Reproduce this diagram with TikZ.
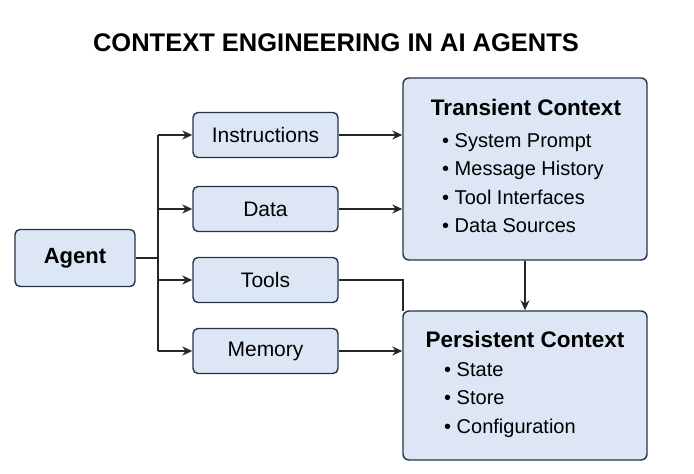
\documentclass[tikz,border=0pt]{standalone}
\usepackage{fontspec}
\setmainfont{Liberation Sans}
\usetikzlibrary{arrows.meta}
\definecolor{bfill}{HTML}{DCE6F5}
\definecolor{bdraw}{HTML}{24324A}
\begin{document}
\begin{tikzpicture}[x=1pt,y=-1pt,
 box/.style={draw=bdraw,fill=bfill,rounded corners=5pt,line width=1.4pt,font=\fontsize{21}{24}\selectfont,text=black},
 big/.style={draw=bdraw,fill=bfill,rounded corners=6pt,line width=1.4pt},
 arr/.style={-{Stealth[length=10pt,width=9pt]},line width=1.4pt,draw=black!85},
 ln/.style={line width=1.4pt,draw=black!85}]
\useasboundingbox (0,0) rectangle (694,474);
\node[font=\bfseries\fontsize{25.5}{28}\selectfont] (title) at (336,43) {CONTEXT ENGINEERING IN AI AGENTS};
\node[box,minimum width=120pt,minimum height=57pt,font=\bfseries\fontsize{22}{24}\selectfont] (agent) at (75,258) {Agent};
\foreach \n/\t/\y in {ins/Instructions/135,dat/Data/209,too/Tools/280,mem/Memory/351}
  \node[box,minimum width=145pt,minimum height=45pt] (\n) at (265.5,\y) {\t};
\node[big,minimum width=244pt,minimum height=182pt] (tr) at (525,169) {};
\node[big,minimum width=244pt,minimum height=149pt] (pe) at (525,385.5) {};
\node[font=\bfseries\fontsize{22.5}{26}\selectfont] (trt) at (526,107) {Transient Context};
\node[font=\fontsize{20}{28.5}\selectfont,anchor=north west,align=left,inner sep=0pt] (trl) at (442,133) {•\ System Prompt\\•\ Message History\\•\ Tool Interfaces\\•\ Data Sources};
\node[font=\bfseries\fontsize{22.5}{26}\selectfont] (pet) at (525,339) {Persistent Context};
\node[font=\fontsize{20}{28.5}\selectfont,anchor=north west,align=left,inner sep=0pt] (pel) at (444,362) {•\ State\\•\ Store\\•\ Configuration};
\coordinate (j) at (158,258);
\coordinate (jt) at (158,135);
\coordinate (jb) at (158,351);
\draw[ln] (agent.east) -- (j);
\draw[ln] (jt) -- (jb);
\draw[arr] (jt) -- (ins.west);
\draw[arr] (158,209) -- (dat.west);
\draw[arr] (158,280) -- (too.west);
\draw[arr] (jb) -- (mem.west);
\draw[arr] (ins.east) -- (tr.west |- ins.east);
\draw[arr] (dat.east) -- (tr.west |- dat.east);
\draw[ln] (too.east) -- (403,280) -- (403,311);
\draw[arr] (mem.east) -- (pe.west |- mem.east);
\draw[arr] (tr.south) -- (pe.north);
\end{tikzpicture}
\end{document}
